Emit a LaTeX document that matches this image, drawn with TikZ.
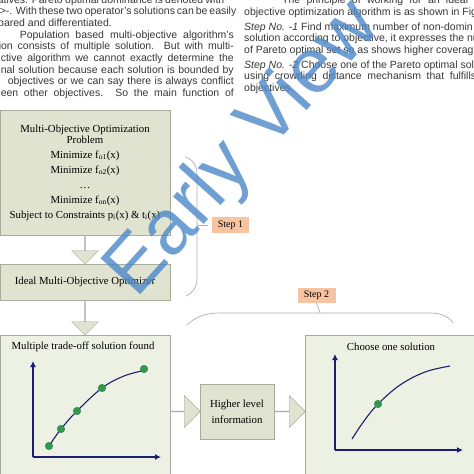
\documentclass[tikz,border=0pt]{standalone}
\usepackage{fontspec}
\setmainfont{Liberation Serif}
\newfontfamily\pagefont{Liberation Sans}
\usetikzlibrary{calc}
\usetikzlibrary{positioning}
\usetikzlibrary{shapes.arrows}
\usetikzlibrary{arrows.meta}
\definecolor{boxfill}{HTML}{DFE3D0}
\definecolor{plotfill}{HTML}{EDF1E3}
\definecolor{boxline}{HTML}{A9AC9A}
\definecolor{stepfill}{HTML}{F7C4A2}
\definecolor{axisblue}{HTML}{1B1F6E}
\definecolor{dotgreen}{HTML}{2E9A4F}
\definecolor{markblue}{HTML}{4C88C9}
\definecolor{bracegray}{HTML}{AFAFAF}
\tikzstyle{pageline} = [font=\pagefont\fontsize{10.5}{11.7}\selectfont, text=black!78, inner sep=0pt, anchor=base east]
\tikzstyle{boxnode} = [draw=boxline, fill=boxfill, inner sep=0pt, align=center, font=\fontsize{10.8}{15}\selectfont]
\tikzstyle{plotbox} = [draw=boxline, fill=plotfill, inner sep=0pt]
\tikzstyle{titletext} = [inner sep=0pt, font=\fontsize{10.8}{13}\selectfont]
\tikzstyle{blockarrow} = [single arrow, draw=boxline, fill=boxfill, inner sep=0pt, single arrow head extend=6.5pt, single arrow head indent=0pt]
\tikzstyle{steplabel} = [fill=stepfill, inner sep=0pt, font=\fontsize{10}{12}\selectfont]
\tikzstyle{bracepath} = [draw=bracegray, line width=0.7pt]
\tikzstyle{axis} = [draw=axisblue, line width=1.4pt, -{Latex[length=6pt,width=6pt]}]
\tikzstyle{pareto} = [draw=axisblue, line width=1.1pt]
\tikzstyle{soldot} = [fill=dotgreen, draw=dotgreen!80!black, line width=0.3pt]
\begin{document}
\begin{tikzpicture}[x=1pt,y=-1pt]
\useasboundingbox (0,0) rectangle (474,474);
\clip (0,0) rectangle (474,474);
\fill[white] (0,0) rectangle (474,474);

\node[pageline] (l1) at (234,3) {\makebox[236pt][s]{atives. Pareto optimal dominance is denoted with ’ ’}};
\node[pageline] (l2) at (234,14.7) {\makebox[234pt][s]{>-. With these two operator’s solutions can be easily}};
\node[pageline, anchor=base west] (l3) at (-2,26.4) {pared and differentiated.};
\node[pageline] (l4) at (234,38.1) {\makebox[214pt][s]{Population based multi-objective algorithm’s}};
\node[pageline] (l5) at (234,49.8) {\makebox[235pt][s]{ion consists of multiple solution. But with multi-}};
\node[pageline] (l6) at (234,61.5) {\makebox[233pt][s]{ctive algorithm we cannot exactly determine the}};
\node[pageline] (l7) at (234,73.2) {\makebox[233pt][s]{nal solution because each solution is bounded by}};
\node[pageline] (l8) at (234,84.9) {\makebox[226pt][s]{objectives or we can say there is always conflict}};
\node[pageline] (l9) at (234,96.6) {\makebox[233pt][s]{een other objectives. So the main function of}};

\node[pageline, anchor=base west] (r1) at (282,3) {\makebox[186pt][s]{The principle of working for an ideal}};
\node[pageline, anchor=base west] (r2) at (244,15) {objective optimization algorithm is as shown in Fig.};
\node[pageline, anchor=base west] (r3) at (244,30) {\textit{Step No. -1} Find maximum number of non-domin};
\node[pageline, anchor=base west] (r4) at (244,41.5) {solution according to objective, it expresses the nu};
\node[pageline, anchor=base west] (r5) at (244,53) {of Pareto optimal set so as shows higher coverage};
\node[pageline, anchor=base west] (r6) at (244,68) {\textit{Step No. -2} Choose one of the Pareto optimal sol};
\node[pageline, anchor=base west] (r7) at (244,79.5) {\makebox[232pt][s]{using crowding distance mechanism that fulfills}};
\node[pageline, anchor=base west] (r8) at (244,91) {objectives.};

\node[boxnode, minimum width=170pt, minimum height=125pt] (problem) at (85,172.5) {Multi-Objective Optimization\\[-4pt] Problem\\ Minimize f\textsubscript{o1}(x)\\ Minimize f\textsubscript{o2}(x)\\ \dots\\ Minimize f\textsubscript{on}(x)\\ Subject to Constraints p\textsubscript{i}(x) \& t\textsubscript{i}(x)};
\node[boxnode, minimum width=170pt, minimum height=36pt] (ideal) at ($(problem)+(0,109.5)$) {Ideal Multi-Objective Optimizer};
\node[plotbox, minimum width=170pt, minimum height=150pt] (found) at ($(ideal)+(0,128)$) {};
\node[boxnode, minimum width=74pt, minimum height=55pt, font=\fontsize{10.8}{16}\selectfont] (higher) at ($(found)+(152,1.5)$) {Higher level\\ information};
\node[plotbox, minimum width=176pt, minimum height=150pt] (choose) at ($(found)+(308,0)$) {};

\node[blockarrow, rotate=-90, minimum height=29pt, minimum width=27pt] (down1) at ($(problem.south)!0.5!(ideal.north)$) {};
\node[blockarrow, rotate=-90, minimum height=35pt, minimum width=27pt] (down2) at ($(ideal.south)!0.5!(found.north)$) {};
\node[blockarrow, minimum height=30pt, minimum width=32pt, single arrow head extend=7pt] (right1) at ($(found.east |- higher.west)!0.5!(higher.west)$) {};
\node[blockarrow, minimum height=31pt, minimum width=32pt, single arrow head extend=7pt] (right2) at ($(higher.east)!0.5!(choose.west |- higher.east)$) {};

\node[titletext] (foundtitle) at ($(found.north)+(-2,12)$) {Multiple trade-off solution found};
\node[titletext] (choosetitle) at ($(choose.north)+(-2,12)$) {Choose one solution};

\draw[axis] (33,457) -- (33,361);
\draw[axis] (33,457) -- (161,457);
\draw[pareto] plot[smooth, tension=0.6] coordinates {(49,446) (61,429) (77,411) (102,388) (124,376) (146,370)};
\foreach \px/\py in {49/446, 61/429, 77/411, 102/388, 144/369}
  \fill[soldot] (\px,\py) circle (3.8pt);

\draw[axis] (335,450) -- (335,354);
\draw[axis] (335,450) -- (463,450);
\draw[pareto] plot[smooth, tension=0.6] coordinates {(352,439) (364,421) (378,404) (400,385) (425,372) (450,366)};
\fill[soldot] (378,404) circle (3.8pt);

\node[steplabel, minimum width=37pt, minimum height=16pt] (step1) at (230.5,225) {Step 1};
\node[steplabel, minimum width=38pt, minimum height=15pt] (step2) at (316.5,295) {Step 2};
\coordinate (brace1) at (197,225);
\coordinate (brace2) at (320,313);
\draw[bracepath] (185,157) .. controls (194,160) and (197,166) .. (197,176) -- (197,277) .. controls (197,287) and (194,292) .. (186,296);
\draw[bracepath, shorten >=4pt] (brace1) -- (step1.west);
\draw[bracepath] (187,325) .. controls (195,317) and (205,313) .. (220,313) -- (430,313) .. controls (443,313) and (450,318) .. (453,323);
\draw[bracepath] (brace2) -- (step2.south);

\node[font=\pagefont\fontsize{78}{78}\selectfont, text=markblue, opacity=0.8, inner sep=0pt, rotate=48] (mark) at (244,150) {Early View};
\end{tikzpicture}
\end{document}
